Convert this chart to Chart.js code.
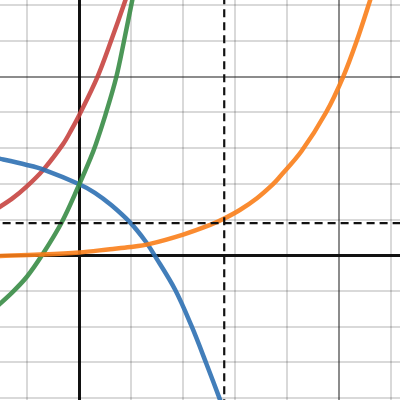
<!DOCTYPE html>
<html>
<head>
<meta charset="utf-8">
<title>Curves</title>
<script src="https://cdn.jsdelivr.net/npm/chart.js@4.4.1/dist/chart.umd.min.js"></script>
<style>
    html, body { margin: 0; padding: 0; background: #fff; }
    #wrap { width: 400px; height: 400px; position: relative; }
</style>
</head>
<body>
<div id="wrap"><canvas id="myGraph"></canvas></div>
<script>
// axis window (grid units)
const xRange = [-1.527, 6.174];
const yRange = [-4.053, 7.151];
const majorEvery = 5;

// red curve
const redX = [-1.7, -1.3, -1.01, -0.69, -0.31, -0.15, 0, 0.35, 0.61, 0.9, 0.96];
const redY = [1.2, 1.58, 1.93, 2.4, 3.12, 3.52, 3.93, 5.0, 6.0, 7.2, 7.5];

// green curve
const greenX = [-1.7, -1.3, -1.01, -0.72, -0.34, 0, 0.21, 0.32, 0.5, 0.71, 0.86, 1.02, 1.06];
const greenY = [-1.58, -1.05, -0.6, 0, 0.92, 1.99, 2.7, 3.12, 3.92, 4.98, 6.0, 7.15, 7.45];

// blue curve
const blueX = [-1.7, -1.01, -0.69, 0, 0.3, 0.62, 0.99, 1.27, 1.44, 1.84, 2.16, 2.45, 2.71, 2.77];
const blueY = [2.76, 2.53, 2.4, 1.99, 1.75, 1.4, 0.9, 0.4, 0.02, -0.95, -1.98, -3.05, -4.05, -4.3];

// orange curve
const orangeX = [-1.56, -0.76, 0, 0.59, 0.98, 1.36, 2.0, 2.52, 2.75, 3.09, 3.42, 3.72, 3.86, 4.28, 4.75, 5.08, 5.34, 5.6, 5.65];
const orangeY = [-0.02, 0.02, 0.08, 0.17, 0.23, 0.32, 0.58, 0.85, 1.0, 1.27, 1.6, 1.98, 2.2, 2.92, 4.0, 5.0, 6.0, 7.15, 7.4];

// dashed guide lines
const guideX = 2.79;
const guideY = 0.9;

function toPoints(xs, ys) {
    return xs.map((x, i) => ({ x: x, y: ys[i] }));
}

function curve(xs, ys, color) {
    return {
        data: toPoints(xs, ys),
        showLine: true,
        borderColor: color,
        borderWidth: 4.5,
        pointRadius: 0,
        tension: 0.35,
        fill: false,
    };
}

function guide(points) {
    return {
        data: points,
        showLine: true,
        borderColor: "#111",
        borderWidth: 2.2,
        borderDash: [8, 5],
        pointRadius: 0,
        fill: false,
    };
}

// grid look: axis line at 0, darker line every 5, light otherwise
function gridColor(ctx) {
    const v = ctx.tick ? ctx.tick.value : null;
    if (v === 0) return "#111";
    if (v % majorEvery === 0) return "rgba(0,0,0,0.45)";
    return "rgba(0,0,0,0.15)";
}

function gridWidth(ctx) {
    const v = ctx.tick ? ctx.tick.value : null;
    if (v === 0) return 3;
    return 2;
}

document.addEventListener("DOMContentLoaded", () => {
    const ctx = document.getElementById("myGraph").getContext("2d");

    new Chart(ctx, {
        type: "scatter",
        data: {
            datasets: [
                guide([{ x: guideX, y: yRange[0] - 0.2 }, { x: guideX, y: yRange[1] + 0.2 }]),
                guide([{ x: xRange[0] - 0.2, y: guideY }, { x: xRange[1] + 0.2, y: guideY }]),
                curve(orangeX, orangeY, "rgba(250,126,25,0.9)"),
                curve(greenX, greenY, "rgba(56,140,70,0.9)"),
                curve(blueX, blueY, "rgba(45,112,179,0.9)"),
                curve(redX, redY, "rgba(199,68,64,0.9)"),
            ],
        },
        options: {
            responsive: true,
            maintainAspectRatio: false,
            animation: false,
            layout: { padding: 0, autoPadding: false },
            plugins: {
                legend: { display: false },
                tooltip: { enabled: false },
            },
            elements: {
                line: { capBezierPoints: false },
            },
            scales: {
                x: {
                    type: "linear",
                    min: xRange[0],
                    max: xRange[1],
                    ticks: { display: false, stepSize: 1, includeBounds: false },
                    grid: { color: gridColor, lineWidth: gridWidth, drawTicks: false },
                    border: { display: false },
                },
                y: {
                    type: "linear",
                    min: yRange[0],
                    max: yRange[1],
                    ticks: { display: false, stepSize: 1, includeBounds: false },
                    grid: { color: gridColor, lineWidth: gridWidth, drawTicks: false },
                    border: { display: false },
                },
            },
        },
    });
});
</script>
</body>
</html>
